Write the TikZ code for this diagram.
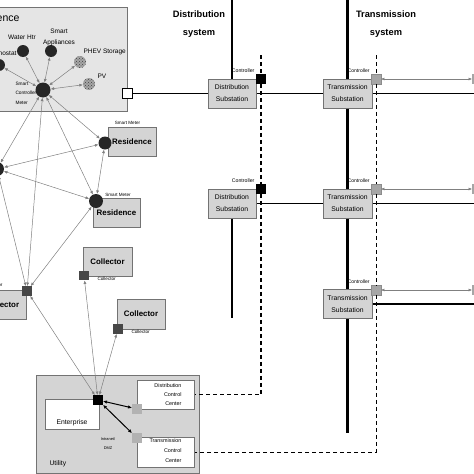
\documentclass[tikz,border=0pt]{standalone}
\usepackage{fontspec}
\setmainfont{Liberation Sans}
\usetikzlibrary{arrows.meta, positioning, patterns}

\begin{document}
\begin{tikzpicture}[
    x=1pt, y=-1pt,
    box/.style={draw=black!55, line width=1pt, fill=black!17, inner sep=0pt},
    wbox/.style={draw=black!55, line width=1pt, fill=white, inner sep=0pt},
    dev/.style={circle, fill=black!85, inner sep=0pt, minimum size=12pt},
    pvdev/.style={circle, inner sep=0pt, minimum size=12pt,
                  preaction={fill=black!35}, pattern=crosshatch dots, pattern color=black!75},
    sq/.style={rectangle, inner sep=0pt, minimum size=9.5pt},
    colsq/.style={sq, fill=black!72},
    link/.style={{Latex[length=3.5pt,width=3pt]}-{Latex[length=3.5pt,width=3pt]},
                 draw=black!50, line width=0.5pt},
    blink/.style={{Latex[length=4pt,width=3.5pt]}-{Latex[length=4pt,width=3.5pt]},
                  draw=black, line width=1pt},
    power/.style={draw=black, line width=1.6pt},
    trunk/.style={draw=black, line width=3.8pt},
    ctl/.style={draw=black, line width=1.4pt, dash pattern=on 4pt off 3pt},
    devtext/.style={font=\fontsize{6.5}{11}\selectfont},
    tiny/.style={font=\fontsize{4.6}{6}\selectfont},
    boxtext/.style={font=\fontsize{7.9}{9}\selectfont\bfseries},
    subtext/.style={font=\fontsize{6.8}{12}\selectfont, align=center},
    head/.style={font=\fontsize{9.3}{18}\selectfont\bfseries, align=center},
]
\useasboundingbox (0,0) rectangle (474,474);
\clip (0,0) rectangle (474,474);

\def\xd{232}    % distribution feeder
\def\xdc{261}   % distribution controllers
\def\xt{347.5}  % transmission trunk
\def\xtc{376}   % transmission controllers

% --- the home with its devices ---
\node[box, fill=black!10, minimum width=187pt, minimum height=104pt] (home) at (33.5,59) {};
\node[anchor=base east, font=\fontsize{10.5}{12}\selectfont] (hometitle) at (23,21) {Residence};

\node[dev] (thermo) at (-1,65) {};
\node[devtext, anchor=base east] (thermolbl) at (20,55.5) {Thermostat};
\node[dev] (heater) at (23,51) {};
\node[devtext] (heaterlbl) at (22,37) {Water Htr};
\node[dev] (appl) at (51,51) {};
\node[devtext, align=center] (appllbl) at (59,37.5) {Smart\\Appliances};
\node[pvdev] (phev) at (80,62) {};
\node[devtext, anchor=west] (phevlbl) at (80,52) {PHEV Storage};
\node[pvdev] (pv) at (89,84) {};
\node[devtext, anchor=west] (pvlbl) at (94,76) {PV};

\node[dev, minimum size=15pt] (ctrl) at (43,90) {};
\node[tiny, align=left, anchor=west, font=\fontsize{4.8}{9.5}\selectfont] (ctrllbl) at (12,93) {Smart\\Controller\\Meter};

\node[sq, draw=black, line width=0.8pt, fill=white] (homeport) at (127.5,93.5) {};

\foreach \d in {thermo, heater, appl, phev, pv}
    \draw[link] (ctrl) -- (\d);

% --- neighbourhood ---
\node[box, boxtext, minimum width=48pt, minimum height=29pt] (resA) at (132,141.5) {Residence};
\node[dev, minimum size=13pt] (mtrA) at (105,143) {};
\node[tiny] (mtrAlbl) at (127.5,123) {Smart Meter};
\node[box, boxtext, minimum width=47pt, minimum height=29pt] (resB) at (116.5,212.5) {Residence};
\node[dev, minimum size=14pt] (mtrB) at (96,201) {};
\node[tiny] (mtrBlbl) at (118,195) {Smart Meter};
\node[dev, minimum size=14pt] (mtrL) at (-3,169) {};

\node[box, boxtext, minimum width=48pt, minimum height=29pt] (col1) at (2,304.5) {Collector};
\node[colsq] (c1) at (27,291) {};
\node[tiny, anchor=east] (c1lbl) at (6,285) {Collector};
\node[box, boxtext, minimum width=49pt, minimum height=29pt] (col2) at (107.5,261.5) {Collector};
\node[colsq] (c2) at (84,275.5) {};
\node[tiny, anchor=west] (c2lbl) at (94,279) {Collector};
\node[box, boxtext, minimum width=48pt, minimum height=30pt] (col3) at (141,314) {Collector};
\node[colsq] (c3) at (118,329) {};
\node[tiny, anchor=west] (c3lbl) at (128,332) {Collector};

\foreach \a/\b in {ctrl/mtrL, ctrl/mtrA, ctrl/mtrB, ctrl/c1, mtrA/mtrL, mtrB/mtrL,
                   mtrA/mtrB, mtrL/c1, mtrB/c1}
    \draw[link] (\a) -- (\b);

% --- utility ---
\node[box, minimum width=163pt, minimum height=98pt] (utility) at (117.5,424) {};
\node[anchor=west, font=\fontsize{6.8}{8}\selectfont] (utillbl) at (46,464) {Utility};
\node[wbox, minimum width=54pt, minimum height=30pt] (entbox) at (72,414) {};
\node[anchor=base, font=\fontsize{6.8}{8}\selectfont] (entlbl) at (72,424) {Enterprise};
\node[sq, fill=black] (ent) at (98,400) {};

\node[wbox, minimum width=57pt, minimum height=29pt] (dcc) at (165.5,394.5) {};
\node[anchor=east, align=right, font=\fontsize{5.4}{9}\selectfont] (dcclbl) at (185,395) {Distribution\\Control\\Center};
\node[sq, fill=black!30] (dccp) at (137,409) {};
\node[wbox, minimum width=57pt, minimum height=30pt] (tcc) at (165.5,452) {};
\node[anchor=east, align=right, font=\fontsize{5.4}{10}\selectfont] (tcclbl) at (185,451) {Transmission\\Control\\Center};
\node[sq, fill=black!30] (tccp) at (137,438) {};
\node[align=center, font=\fontsize{3.9}{9.5}\selectfont] (dmz) at (108,443.5) {Intranet/\\DMZ};

\foreach \c in {c1, c2, c3}
    \draw[link] (\c) -- (ent);
\draw[blink] (ent) -- (dccp);
\draw[blink] (ent) -- (tccp);

% --- distribution system ---
\node[head] (disthead) at (199,24) {Distribution\\system};
\node[box, subtext, minimum width=48pt, minimum height=29pt] (ds1) at (\xd,93.5) {Distribution\\Substation};
\node[box, subtext, minimum width=48pt, minimum height=29pt] (ds2) at (\xd,203.5) {Distribution\\Substation};
\node[sq, fill=black] (dc1) at (\xdc,79) {};
\node[tiny, anchor=east, font=\fontsize{5.2}{6}\selectfont] (dc1lbl) at (258,71) {Controller};
\node[sq, fill=black] (dc2) at (\xdc,189) {};
\node[tiny, anchor=east, font=\fontsize{5.2}{6}\selectfont] (dc2lbl) at (258,181) {Controller};
\coordinate (dtop) at (\xd,0);
\coordinate (dbot) at (\xd,318);
\coordinate (dctop) at (\xdc,55);

% --- transmission system ---
\node[head] (tranhead) at (386,24) {Transmission\\system};
\node[box, subtext, minimum width=49pt, minimum height=29pt] (ts1) at (\xt,93.5) {Transmission\\Substation};
\node[box, subtext, minimum width=49pt, minimum height=29pt] (ts2) at (\xt,203.5) {Transmission\\Substation};
\node[box, subtext, minimum width=49pt, minimum height=29pt] (ts3) at (\xt,304) {Transmission\\Substation};
\foreach \i/\y in {1/79, 2/189, 3/290} {
    \node[sq, fill=black!35, draw=black!45, line width=0.4pt] (tc\i) at (\xtc,\y) {};
    \node[tiny, anchor=east, font=\fontsize{5}{6}\selectfont] (tc\i lbl) at (373,\y-8) {Controller};
    \node[sq, fill=black!35] (far\i) at (477,\y) {};
    \draw[link] (tc\i) -- (far\i);
}
\coordinate (ttop) at (\xt,0);
\coordinate (tbot) at (\xt,433);
\coordinate (tctop) at (\xtc,55);
\coordinate (eastA) at (474,93.5);
\coordinate (eastB) at (474,203.5);
\coordinate (eastC) at (474,304);

% power lines
\draw[power] (homeport.east) -- (ds1.west);
\draw[power] (ds1.east) -- (ts1.west);
\draw[power] (ts1.east) -- (eastA);
\draw[power] (ds2.east) -- (ts2.west);
\draw[power] (ts2.east) -- (eastB);
\draw[power] (ts3.east) -- (eastC);
\draw[power] (dtop) -- (ds1.north);
\draw[power] (ds2.south) -- (dbot);
\draw[trunk] (ttop) -- (ts1.north);
\draw[trunk] (ts1.south) -- (ts2.north);
\draw[trunk] (ts2.south) -- (ts3.north);
\draw[trunk] (ts3.south) -- (tbot);

% control links (dashed)
\draw[ctl] (dctop) -- (dc1.north);
\draw[ctl] (dc1.south) -- (dc2.north);
\draw[ctl] (dc2.south) |- (dcc.east);
\draw[ctl, line width=1pt] (tctop) -- (tc1.north);
\draw[ctl, line width=1pt] (tc1.south) -- (tc2.north);
\draw[ctl, line width=1pt] (tc2.south) -- (tc3.north);
\draw[ctl, line width=1pt] (tc3.south) |- (tcc.east);
\end{tikzpicture}
\end{document}
